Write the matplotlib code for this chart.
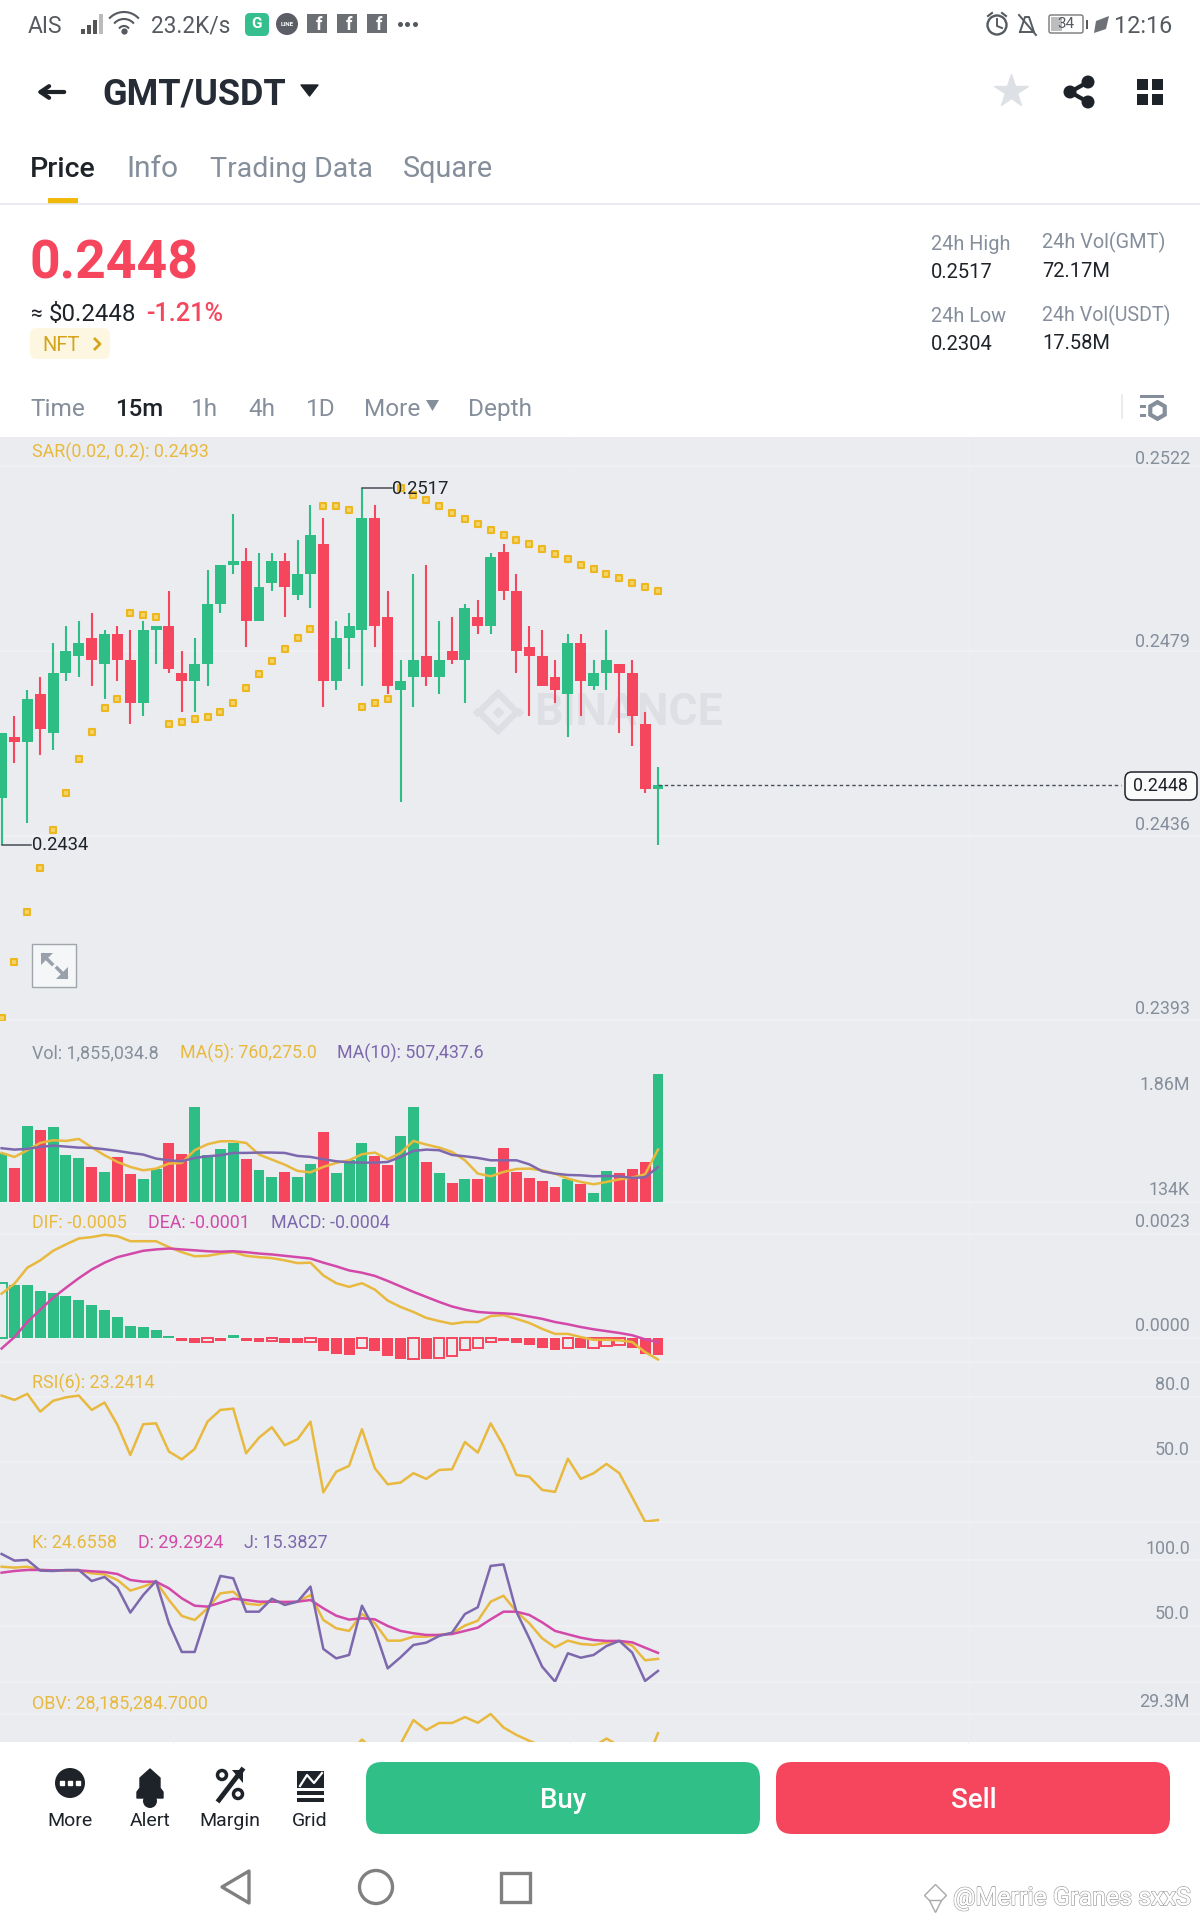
import numpy as np
from matplotlib import pyplot as plt
from matplotlib.patches import Rectangle, FancyBboxPatch, Circle, Polygon
import matplotlib.patheffects as pe

plt.rcParams['font.family'] = ['Roboto', 'DejaVu Sans']

# candles, 15m
opens = [.2445, .2459, .2458, .2469, .2460, .2474, .2478, .2482, .2476, .2483, .2477, .2467, .2484,
         .2485, .2474, .2472, .2476, .2490, .2499, .2500, .2486, .2495, .2500, .2492, .2497, .2504,
         .2472, .2482, .2484, .2510, .2487, .2470, .2473, .2478, .2473, .2479, .2477, .2487, .2485,
         .2502, .2493, .2480, .2478, .2473, .2469, .2481, .2471, .2474, .2476, .2474, .2462, .2447]
highs = [.2460, .2464, .2470, .2473, .2481, .2485, .2486, .2488, .2484, .2485, .2484, .2486, .2485,
         .2493, .2479, .2482, .2498, .2499, .2511, .2503, .2502, .2502, .2502, .2505, .2513, .2510,
         .2486, .2488, .2517, .2513, .2493, .2477, .2497, .2499, .2486, .2487, .2490, .2491, .2502,
         .2504, .2497, .2485, .2484, .2477, .2483, .2483, .2477, .2484, .2476, .2477, .2465, .2452]
lows = [.2434, .2453, .2439, .2455, .2456, .2472, .2473, .2471, .2468, .2472, .2462, .2464, .2476,
        .2474, .2465, .2465, .2471, .2488, .2497, .2480, .2486, .2493, .2487, .2491, .2489, .2466,
        .2470, .2475, .2471, .2480, .2469, .2444, .2466, .2471, .2469, .2476, .2467, .2483, .2483,
        .2491, .2474, .2464, .2471, .2467, .2459, .2464, .2470, .2470, .2460, .2457, .2446, .2434]
closes = [.2460, .2458, .2468, .2461, .2474, .2479, .2481, .2477, .2483, .2477, .2467, .2484, .2485,
          .2475, .2472, .2476, .2490, .2499, .2500, .2486, .2494, .2500, .2494, .2497, .2506, .2472,
          .2482, .2485, .2510, .2485, .2471, .2472, .2477, .2473, .2477, .2477, .2489, .2485, .2501,
          .2493, .2479, .2478, .2471, .2470, .2481, .2472, .2474, .2477, .2474, .2464, .2447, .2448]
sar = [.23937, .24068, .24184, .24286, .24374, .24461, .24539, .24603, .24658, .24680, .24880, .24874,
       .24869, .24620, .24626, .24633, .24638, .24650, .24670, .24705, .24737, .24768, .24795, .24820,
       .24843, .25129, .25129, .25120, .24660, .24670, .24680, .25170, .25154, .25141, .25127, .25113,
       .25099, .25086, .25073, .25060, .25048, .25039, .25027, .25016, .25004, .24992, .24982, .24971,
       .24960, .24950, .24940, .24930]
price_ticks = [.2522, .2479, .2436, .2393]

# volume, thousands
vol_k = [712, 489, 1099, 1041, 1085, 678, 644, 504, 441, 654, 407, 329, 484, 857, 693, 1371, 678, 765,
         862, 620, 465, 358, 436, 358, 547, 1017, 421, 615, 852, 663, 538, 954, 1380, 576, 416, 276,
         339, 334, 513, 780, 431, 344, 310, 223, 334, 262, 134, 455, 426, 475, 576, 1855]
ma5_k = [712, 654, 751, 857, 896, 886, 915, 794, 678, 581, 509, 460, 484, 557, 567, 751, 838, 881, 881,
         857, 688, 615, 542, 450, 431, 509, 567, 605, 693, 717, 620, 712, 886, 833, 789, 726, 605, 412,
         373, 436, 479, 484, 460, 412, 339, 291, 257, 291, 329, 354, 402, 760]
ma10_k = [780, 760, 770, 799, 818, 804, 789, 785, 765, 741, 712, 688, 630, 605, 591, 639, 663, 678, 712,
          712, 717, 717, 712, 668, 654, 620, 591, 576, 571, 571, 581, 654, 741, 760, 751, 683, 663, 639,
          605, 605, 605, 547, 446, 412, 392, 387, 373, 378, 373, 349, 358, 507]

# macd, units of 0.0001
dif = [9.7, 11.9, 15.4, 17.0, 19.1, 20.5, 21.8, 22.1, 22.6, 22.3, 21.2, 21.2, 21.2, 19.9, 18.8, 17.9, 18.0,
       18.5, 18.8, 18.0, 17.7, 17.5, 17.0, 16.4, 16.5, 13.7, 12.0, 11.2, 12.0, 10.6, 8.2, 6.8, 5.7, 4.4,
       3.7, 3.1, 3.5, 3.5, 4.8, 5.0, 4.2, 3.3, 2.0, 0.9, 0.9, 0.2, -0.4, -0.4, -0.5, -0.9, -3.1, -4.7]
dea = [-2.3, 0.2, 3.5, 6.2, 8.8, 11.0, 13.1, 15.0, 16.5, 17.7, 18.4, 19.1, 19.4, 19.6, 19.4, 19.2, 19.0,
       18.9, 19.0, 18.8, 18.5, 18.3, 18.0, 17.7, 17.4, 16.5, 15.7, 14.8, 14.3, 13.6, 12.5, 11.3, 10.1, 9.0,
       7.9, 6.9, 6.2, 5.7, 5.5, 5.4, 5.2, 4.7, 4.2, 3.5, 3.0, 2.4, 1.9, 1.5, 1.1, 0.6, -0.3, -0.9]
macd = [12.0, 11.7, 11.5, 10.4, 9.9, 9.3, 8.4, 7.2, 6.2, 4.7, 2.7, 2.3, 1.7, 0.4, -0.6, -1.2, -0.9, -0.6,
        0.6, -0.7, -0.9, -0.7, -1.1, -1.2, -0.9, -2.9, -3.6, -3.7, -2.2, -2.8, -4.0, -4.7, -4.7, -4.7,
        -4.3, -3.9, -2.7, -2.2, -0.9, -0.6, -1.1, -1.6, -2.3, -2.7, -2.2, -2.3, -2.2, -1.7, -1.5, -2.1,
        -3.4, -3.8]
macd_hollow = [0, 16, 21, 24, 28, 32, 34, 35, 36, 37, 38, 44, 46, 47, 48]

rsi = [80.6, 78.6, 81.4, 73.2, 78.2, 79.8, 80.6, 74.0, 77.4, 67.1, 53.2, 67.4, 67.8, 54.8, 51.2, 56.0, 68.6,
       74.0, 74.6, 54.0, 61.2, 66.0, 57.7, 60.5, 68.6, 36.0, 45.5, 48.2, 65.1, 47.1, 39.7, 40.5, 44.8, 42.2,
       46.3, 46.6, 59.2, 54.3, 67.8, 57.4, 44.0, 43.2, 37.1, 36.2, 51.5, 42.2, 44.8, 49.1, 44.8, 33.7, 22.5,
       23.2]

kdj_k = [95.6, 94.9, 95.6, 93.1, 92.8, 92.8, 92.8, 90.5, 89.7, 85.4, 77.2, 80.3, 84.1, 70.0, 57.7, 54.6, 63.6,
         75.1, 76.4, 67.2, 66.2, 70.0, 67.4, 68.7, 73.8, 54.6, 48.2, 46.2, 59.2, 52.1, 38.7, 38.7, 41.8, 41.8,
         43.1, 44.4, 50.3, 54.1, 68.7, 73.3, 61.0, 52.1, 40.5, 33.6, 38.7, 36.2, 35.4, 37.2, 38.5, 34.9, 23.6,
         24.7]
kdj_d = [91.0, 92.3, 93.1, 93.1, 92.8, 92.8, 92.8, 92.1, 91.5, 90.0, 85.4, 84.1, 84.1, 79.0, 71.3, 65.6, 64.9,
         67.9, 71.0, 70.0, 68.7, 68.7, 68.5, 68.7, 70.0, 63.6, 57.9, 54.9, 55.9, 55.1, 50.0, 46.2, 44.4, 43.1,
         43.1, 43.8, 46.2, 48.7, 55.1, 61.0, 61.0, 58.5, 52.8, 46.2, 43.6, 41.0, 39.2, 38.5, 38.5, 37.4, 33.3,
         29.3]
kdj_j = [105.4, 100.3, 100.8, 92.6, 92.3, 93.1, 93.1, 84.6, 87.7, 79.5, 60.3, 73.8, 84.6, 52.1, 30.0, 30.0, 61.0,
         88.5, 86.7, 61.0, 61.0, 71.0, 66.2, 68.7, 80.3, 32.3, 25.1, 27.7, 65.6, 46.9, 17.4, 25.9, 35.4, 37.2,
         42.3, 44.9, 59.2, 64.4, 96.2, 97.4, 61.0, 40.5, 18.7, 7.2, 29.0, 25.6, 27.7, 34.6, 38.5, 29.5, 7.7,
         15.4]

# obv, millions
obv = [22.49, 22.00, 23.10, 22.06, 23.14, 23.82, 24.46, 23.96, 24.40, 23.75, 23.34, 23.67, 24.15, 23.30, 22.60,
       23.97, 24.65, 25.42, 26.28, 25.66, 26.12, 26.48, 26.04, 26.40, 26.95, 25.93, 26.35, 26.97, 27.82, 27.16,
       26.62, 27.57, 28.95, 28.37, 28.78, 28.78, 29.12, 28.79, 29.30, 28.52, 28.09, 27.75, 27.44, 27.21, 27.55,
       27.29, 27.42, 27.88, 27.45, 26.98, 26.33, 28.19]

GREEN = '#2EBD85'
RED = '#F6465D'
YELLOW = '#E8B93E'
PINK = '#D349A9'
PURPLE = '#7D68AE'
DARK = '#1E2329'
GREY = '#858E9B'
BG = '#EAECEF'
GRID = '#F0F1F4'
PX_PER_CANDLE = 12.87
W, H = 1200, 1920
LINE = 1.8

x = np.arange(len(closes))
fig = plt.figure(figsize=(12, 19.2), dpi=100, facecolor='white')

ui = fig.add_axes([0, 0, 1, 1], zorder=0)
ui.set_xlim(0, W)
ui.set_ylim(H, 0)
ui.axis('off')


def pane(top, bottom, y_bottom, y_top):
    ax = fig.add_axes([0, 1 - bottom / H, 1, (bottom - top) / H], zorder=2)
    ax.set_xlim(-1.6 / PX_PER_CANDLE, (W - 1.6) / PX_PER_CANDLE)
    ax.set_ylim(y_bottom, y_top)
    ax.axis('off')
    ax.patch.set_alpha(0)
    return ax


def label(px, py, s, size=12.9, color=GREY, ha='left', weight='normal', zorder=6):
    ui_top.text(px, py + 1.3, s, fontsize=size, color=color, ha=ha, va='center', fontweight=weight, zorder=zorder)


# chart background
ui.add_patch(Rectangle((0, 437), W, 1742 - 437, fc=BG, ec='none'))
for gx in [173, 570, 968]:
    ui.plot([gx, gx], [437, 1742], color='#ECEEF1', lw=1)
for gy in [466, 651, 836, 1020, 1202, 1234, 1338, 1362, 1397, 1462, 1522, 1560, 1626, 1682, 1714]:
    ui.plot([0, W], [gy, gy], color=GRID, lw=1.2)

# watermark under the candles
ui.text(534, 713, 'BINANCE', fontsize=32, fontweight='bold', color='#DDDFE4', va='center')
ui.plot([498], [712], marker='D', ms=19, mfc='none', mec='#DDDFE4', mew=4.5)
ui.plot([498], [712], marker='D', ms=5, color='#DDDFE4')
ui.plot([477, 519], [712, 712], ls='none', marker='D', ms=4, color='#DDDFE4')

# candles
price_ax = pane(437, 1020, .2517 - (1020 - 488) / 43000, .2517 - (437 - 488) / 43000)
colors = [GREEN if c >= o else RED for o, c in zip(opens, closes)]
price_ax.vlines(x, lows, highs, colors=colors, lw=1.5)
bottoms = np.minimum(opens, closes)
heights = np.abs(np.array(closes) - np.array(opens))
price_ax.bar(x, heights, bottom=bottoms, width=0.85, color=colors)
price_ax.scatter(x, sar, marker='s', s=22, facecolor='#F3D469', edgecolor='#EDB81F', lw=1.5, zorder=3)
price_ax.hlines(closes[-1], x[-1], x[-1] + 36, colors='#4A4F57', lw=1, linestyles=(0, (2.5, 2)))

# high / low markers
hi_i, lo_i = int(np.argmax(highs)), int(np.argmin(lows))
price_ax.plot([hi_i, hi_i + 2.3], [highs[hi_i]] * 2, color='#474D57', lw=1.1)
price_ax.plot([0, 2.3], [lows[0]] * 2, color='#474D57', lw=1.1)

# volume
vol_ax = pane(1020, 1202, 0, 2640)
vol_ax.bar(x, vol_k, width=0.85, color=colors)
vol_ax.plot(x, ma5_k, color=YELLOW, lw=LINE)
vol_ax.plot(x, ma10_k, color=PURPLE, lw=LINE)

# macd
macd_ax = pane(1203, 1362, -5.26, 29.57)
for i, v in enumerate(macd):
    c = GREEN if v >= 0 else RED
    if i in macd_hollow:
        macd_ax.bar(i, v, width=0.8, facecolor='none', edgecolor=c, lw=1.4)
    else:
        macd_ax.bar(i, v, width=0.85, color=c)
macd_ax.plot(x, dif, color=YELLOW, lw=LINE)
macd_ax.plot(x, dea, color=PINK, lw=LINE)

# rsi
rsi_ax = pane(1362, 1522, 22.3, 96.1)
rsi_ax.plot(x, rsi, color=YELLOW, lw=LINE)

# kdj
kdj_ax = pane(1522, 1682, 6.9, 130)
kdj_ax.plot(x, kdj_k, color=YELLOW, lw=LINE)
kdj_ax.plot(x, kdj_d, color=PINK, lw=LINE)
kdj_ax.plot(x, kdj_j, color=PURPLE, lw=LINE)

# obv
obv_ax = pane(1682, 1742, 27.68, 31.15)
obv_ax.plot(x, obv, color=YELLOW, lw=LINE)

# everything text-like goes on top of the panes
ui_top = fig.add_axes([0, 0, 1, 1], zorder=5)
ui_top.set_xlim(0, W)
ui_top.set_ylim(H, 0)
ui_top.axis('off')
ui_top.patch.set_alpha(0)

label(32, 451, 'SAR(0.02, 0.2): 0.2493', color=YELLOW)
label(392, 488, '%.4f' % max(highs), color=DARK, size=13.2)
label(32, 844, '%.4f' % min(lows), color=DARK, size=13.2)
for s, py in zip(price_ticks, [458, 641, 824, 1008]):
    label(1190, py, '%.4f' % s, ha='right')
label(32, 1052, 'Vol: 1,855,034.8')
label(180, 1052, 'MA(5): 760,275.0', color=YELLOW)
label(337, 1052, 'MA(10): 507,437.6', color=PURPLE)
label(1190, 1084, '1.86M', ha='right')
label(1190, 1189, '134K', ha='right')
label(32, 1222, 'DIF: -0.0005', color=YELLOW)
label(148, 1222, 'DEA: -0.0001', color=PINK)
label(271, 1222, 'MACD: -0.0004', color=PURPLE)
label(1190, 1221, '0.0023', ha='right')
label(1190, 1325, '0.0000', ha='right')
label(32, 1382, 'RSI(6): 23.2414', color=YELLOW)
label(1190, 1384, '80.0', ha='right')
label(1190, 1449, '50.0', ha='right')
label(32, 1542, 'K: 24.6558', color=YELLOW)
label(138, 1542, 'D: 29.2924', color=PINK)
label(244, 1542, 'J: 15.3827', color=PURPLE)
label(1190, 1548, '100.0', ha='right')
label(1190, 1613, '50.0', ha='right')
label(32, 1702, 'OBV: 28,185,284.7000', color=YELLOW)
label(1190, 1701, '29.3M', ha='right')

# current price tag
ui_top.add_patch(FancyBboxPatch((1125, 772), 72, 28, boxstyle='round,pad=0,rounding_size=7', fc='#FBFBFC', ec=DARK, lw=1.1))
label(1161, 785, '%.4f' % closes[-1], color=DARK, ha='center', zorder=7)

# expand button
ui_top.add_patch(Rectangle((32, 944), 44, 43, fc='#F5F6F7', ec='#A0A5AC', lw=1))
ui_top.plot([43, 52], [955, 964], color='#98A0AB', lw=2.5)
ui_top.plot([57, 66], [968, 977], color='#98A0AB', lw=2.5)
ui_top.add_patch(Polygon([[41, 953], [53, 953], [41, 965]], fc='#98A0AB', ec='none'))
ui_top.add_patch(Polygon([[68, 979], [56, 979], [68, 967]], fc='#98A0AB', ec='none'))

# status bar
label(28, 25, 'AIS', size=16.5, color='#555A60')
for bx, bh, c in zip([81, 87, 93, 99], [5, 9, 14, 20], ['#555', '#555', '#555', '#BBB']):
    ui_top.add_patch(Rectangle((bx, 34 - bh), 3.5, bh, fc=c, ec='none'))
for r in [6, 13, 20]:
    t = np.radians(np.linspace(225, 315, 20))
    ui_top.plot(124 + r * np.cos(t), 32 + r * np.sin(t), color='#555A60', lw=1.5)
ui_top.plot([124], [31], 'o', ms=3.5, color='#555A60')
label(151, 25, '23.2K/s', size=16.3, color='#555A60')
ui_top.add_patch(FancyBboxPatch((245, 13), 24, 23, boxstyle='round,pad=0,rounding_size=5', fc='#35BE8E', ec='none'))
ui_top.text(257, 24.5, 'G', fontsize=11, color='white', ha='center', va='center', fontweight='bold')
ui_top.add_patch(Circle((287, 24), 11, fc='#5B5F65', ec='none'))
ui_top.text(287, 24, 'LINE', fontsize=4.5, color='white', ha='center', va='center', fontweight='bold')
for fx in [307, 337, 367]:
    ui_top.add_patch(Rectangle((fx, 14), 20, 19, fc='#6B6F74', ec='none'))
    ui_top.text(fx + 12, 24.5, 'f', fontsize=13, color='white', ha='center', va='center', fontweight='bold')
ui_top.plot([400, 407, 415], [23.5] * 3, ls='none', marker='o', ms=2.6, color='#555A60')

ui_top.add_patch(Circle((997, 25), 9.5, fc='none', ec='#555A60', lw=1.7))
ui_top.plot([997, 997, 1002], [19, 26, 28], color='#555A60', lw=1.4)
ui_top.plot([988, 992], [16, 13], color='#555A60', lw=1.5)
ui_top.plot([1002, 1006], [13, 16], color='#555A60', lw=1.5)
ui_top.plot([1020, 1022, 1025, 1029, 1032, 1034, 1020], [32, 26, 17, 17, 26, 32, 32], color='#555A60', lw=1.4)
ui_top.plot([1019, 1036], [15, 35], color='#555A60', lw=1.4)
ui_top.add_patch(FancyBboxPatch((1049, 15), 34, 18, boxstyle='round,pad=0,rounding_size=2', fc='none', ec='#777', lw=1))
ui_top.add_patch(Rectangle((1051, 17), 11, 14, fc='#BDBDBD', ec='none'))
ui_top.add_patch(Rectangle((1086, 20), 2, 9, fc='#555A60', ec='none'))
ui_top.text(1066, 24.5, '34', fontsize=11, color='#555A60', ha='center', va='center')
ui_top.add_patch(Polygon([[1094, 33], [1096, 21], [1109, 16], [1106, 29]], fc='#6E7276', ec='none'))
label(1172, 25, '12:16', size=16.8, color='#555A60', ha='right')

# title row
ui_top.annotate('', xy=(34, 92), xytext=(67, 92), arrowprops=dict(arrowstyle='->,head_width=0.42,head_length=0.62', color=DARK, lw=3))
label(102, 93, 'GMT/USDT', size=26, color='#262C35', weight='bold')
ui_top.add_patch(Polygon([[301, 85], [318, 85], [309.5, 96]], fc=DARK, ec=DARK, lw=1, joinstyle='round'))
ui_top.plot([1010.5], [91], marker='*', ms=25, color='#DDE0E5', mec='#DDE0E5')
for a, b in [((1070, 92), (1088, 82)), ((1070, 92), (1088, 102))]:
    ui_top.plot([a[0], b[0]], [a[1], b[1]], color=DARK, lw=3)
for c in [(1070, 92), (1088, 82), (1088, 102)]:
    ui_top.add_patch(Circle(c, 6.5, fc=DARK, ec='none'))
for gx_ in [1137, 1152]:
    for gy_ in [79, 94]:
        ui_top.add_patch(Rectangle((gx_, gy_), 11, 11, fc=DARK, ec='none'))

# tabs
label(30, 168, 'Price', size=20.5, color=DARK, weight='medium')
label(126, 168, 'Info', size=21.5)
label(210, 168, 'Trading Data', size=20.5)
label(403, 168, 'Square', size=20.8)
ui_top.add_patch(Rectangle((48, 198), 30, 6, fc='#F0B90B', ec='none'))
ui_top.plot([0, W], [204, 204], color='#E6E8EB', lw=1.2)

# price block
label(30, 263, '0.2448', size=38.5, color=RED, weight='bold')
label(30, 313, '≈', size=15, color=DARK)
label(49, 313, '$0.2448', size=17.3, color=DARK)
label(146, 313, '-1.21%', size=18.2, color=RED, weight='medium')
ui_top.add_patch(FancyBboxPatch((30, 328), 80, 31, boxstyle='round,pad=0,rounding_size=7', fc='#FDF6E1', ec='none'))
label(42, 344, 'NFT', size=14.5, color='#D4A51C')
ui_top.plot([95, 100, 95], [339, 344, 349], color='#D4A51C', lw=2)

label(931, 243, '24h High', size=14.3)
label(931, 271, '0.2517', size=14.5, color=DARK)
label(1042, 241, '24h Vol(GMT)', size=14.3)
label(1042, 270, '72.17M', size=14.5, color=DARK)
label(931, 315, '24h Low', size=14.3)
label(931, 343, '0.2304', size=14.5, color=DARK)
label(1042, 314, '24h Vol(USDT)', size=14.1)
label(1042, 342, '17.58M', size=14.5, color=DARK)

# interval row
for px, s in zip([30, 191, 248, 306, 364, 468], ['Time', '1h', '4h', '1D', 'More', 'Depth']):
    label(px, 408, s, size=17.6)
label(115, 408, '15m', size=17.3, color=DARK, weight='medium')
ui_top.add_patch(Polygon([[426, 400], [439, 400], [432.5, 411]], fc=GREY, ec='none'))
ui_top.plot([1122, 1122], [395, 418], color='#E6E8EB', lw=1.2)
ui_top.add_patch(Rectangle((1140, 395), 24, 3, fc=GREY, ec='none'))
ui_top.add_patch(Rectangle((1140, 405), 6, 3, fc=GREY, ec='none'))
ui_top.add_patch(Rectangle((1140, 414), 6, 3, fc=GREY, ec='none'))
ui_top.plot([1157], [410], marker='h', ms=12, mfc='none', mec=GREY, mew=3)

# bottom bar
for px, s in zip([70, 150, 230, 310], ['More', 'Alert', 'Margin', 'Grid']):
    ui_top.text(px, 1821, s, fontsize=14, color=DARK, ha='center', va='center')
ui_top.add_patch(Circle((70, 1783), 15, fc=DARK, ec='none'))
ui_top.plot([62, 70, 78], [1783] * 3, ls='none', marker='s', ms=3, color='white')
ui_top.add_patch(Polygon([[137, 1798], [163, 1798], [163, 1792], [160, 1788], [160, 1778], [150, 1769],
                          [140, 1778], [140, 1788], [137, 1792]], fc=DARK, ec=DARK, joinstyle='round'))
ui_top.add_patch(Circle((150, 1801), 7, fc=DARK, ec='none'))
ui_top.plot([219, 242], [1800, 1770], color=DARK, lw=3.5)
ui_top.add_patch(Polygon([[232, 1770], [243, 1770], [243, 1783]], fc=DARK, ec='none'))
ui_top.add_patch(Circle((222, 1775), 4.5, fc='white', ec=DARK, lw=2.5))
ui_top.add_patch(Circle((238, 1794), 4.5, fc='white', ec=DARK, lw=2.5))
ui_top.add_patch(Rectangle((297, 1771), 27, 17, fc=DARK, ec='none'))
ui_top.plot([300, 307, 314, 322], [1786, 1775, 1783, 1773], color='white', lw=1.6)
ui_top.add_patch(Rectangle((297, 1791), 27, 3.5, fc=DARK, ec='none'))
ui_top.add_patch(Rectangle((297, 1798), 27, 3.5, fc=DARK, ec='none'))

ui_top.add_patch(FancyBboxPatch((366, 1762), 394, 72, boxstyle='round,pad=0,rounding_size=16', fc='#2FBF87', ec='none'))
ui_top.add_patch(FancyBboxPatch((776, 1762), 394, 72, boxstyle='round,pad=0,rounding_size=16', fc=RED, ec='none'))
ui_top.text(563, 1801, 'Buy', fontsize=20, color='white', ha='center', va='center', fontweight='medium')
ui_top.text(974, 1801, 'Sell', fontsize=20, color='white', ha='center', va='center', fontweight='medium')

# nav bar
ui_top.add_patch(Polygon([[249, 1871], [249, 1903], [222, 1887]], fc='none', ec='#808080', lw=2.4, joinstyle='round'))
ui_top.add_patch(Circle((376, 1887), 16.5, fc='none', ec='#808080', lw=2.4))
ui_top.add_patch(Rectangle((501, 1873), 29, 29, fc='none', ec='#808080', lw=2.4))

# photo credit
wm = ui_top.text(953, 1898, '@Merrie Granes sxxS', fontsize=18, color='white', va='center', ha='left')
wm.set_path_effects([pe.withStroke(linewidth=1.2, foreground='#A8A8A8'), pe.Normal()])
ui_top.plot([935], [1895], marker='D', ms=11, mfc='white', mec='#A8A8A8', mew=1)
ui_top.plot([935], [1906], marker='v', ms=8, mfc='white', mec='#A8A8A8', mew=1)

fig.savefig('out.png', dpi=100)
